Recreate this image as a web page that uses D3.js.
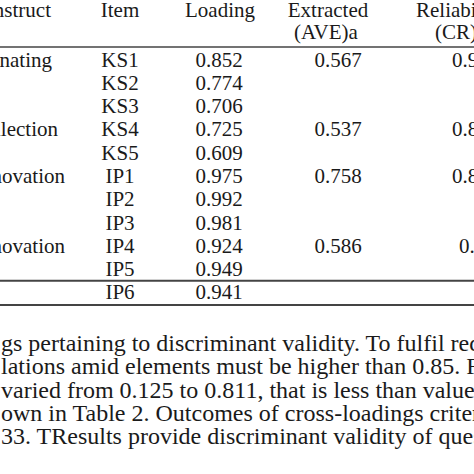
<!DOCTYPE html>
<html><head><meta charset="utf-8">
<script src="https://cdn.jsdelivr.net/npm/d3@7"></script>
<style>body{margin:0;background:#fff}svg{display:block}</style>
</head><body><svg width="474" height="474"></svg>
<script>
// table values
const items = ["KS1","KS2","KS3","KS4","KS5","IP1","IP2","IP3","IP4","IP5","IP6"];
const loadings = ["0.852","0.774","0.706","0.725","0.609","0.975","0.992","0.981","0.924","0.949","0.941"];
const constructs = ["Disseminating","","","Collection","","Innovation","","","Innovation","",""];
const ave = ["0.567","","","0.537","","0.758","","","0.586","",""];
const cr = ["0.912","","","0.852","","0.861","","","0.785","",""];
const paragraph = [
  "gs pertaining to discriminant validity. To fulfil requirements",
  "lations amid elements must be higher than 0.85. For",
  "varied from 0.125 to 0.811, that is less than values",
  "own in Table 2. Outcomes of cross-loadings criterion",
  "33. TResults provide discriminant validity of questionnaire"
];

const svg = d3.select("svg");
const font = "'Liberation Serif', serif";
const y = d3.scaleBand().domain(d3.range(items.length)).range([48, 304]);

const g = svg.append("g").attr("font-family", font).attr("font-size", 21).attr("fill", "#1a1a1a");

// header
g.append("text").attr("x", 51).attr("y", 17).attr("text-anchor", "end").text("Construct");
g.append("text").attr("x", 120).attr("y", 17).attr("text-anchor", "middle").text("Item");
g.append("text").attr("x", 220).attr("y", 17).attr("text-anchor", "middle").text("Loading");
g.append("text").attr("x", 328).attr("y", 17).attr("text-anchor", "middle").text("Extracted");
g.append("text").attr("x", 326).attr("y", 39).attr("text-anchor", "middle").text("(AVE)a");
g.append("text").attr("x", 416).attr("y", 17).text("Reliability");
g.append("text").attr("x", 435).attr("y", 39).text("(CR)");

const rows = g.selectAll("g.row").data(items).join("g")
  .attr("transform", (d, i) => `translate(0,${y(i) + y.bandwidth() / 2 + 7})`);
rows.append("text").attr("x", (d, i) => i === 3 ? 58 : i >= 5 ? 65 : 52).attr("text-anchor", "end").text((d, i) => constructs[i]);
rows.append("text").attr("x", 120).attr("text-anchor", "middle").text(d => d);
rows.append("text").attr("x", 219).attr("text-anchor", "middle").text((d, i) => loadings[i]);
rows.append("text").attr("x", 338).attr("text-anchor", "middle").text((d, i) => ave[i]);
rows.append("text").attr("x", (d, i) => i === 8 ? 459 : 452).text((d, i) => cr[i]);

// rules
[[47, 1.5], [y(10), 1.8], [y(10) + y.bandwidth() + 1, 1.8]].forEach(([yy, w]) =>
  svg.append("line").attr("x1", 0).attr("x2", 474).attr("y1", yy).attr("y2", yy)
    .attr("stroke", "#444").attr("stroke-width", w));

// paragraph
svg.append("g").attr("font-family", font).attr("font-size", 24).attr("fill", "#1a1a1a")
  .selectAll("text").data(paragraph).join("text")
  .attr("x", 1).attr("y", (d, i) => 351 + i * 23.3).text(d => d);
</script></body></html>
